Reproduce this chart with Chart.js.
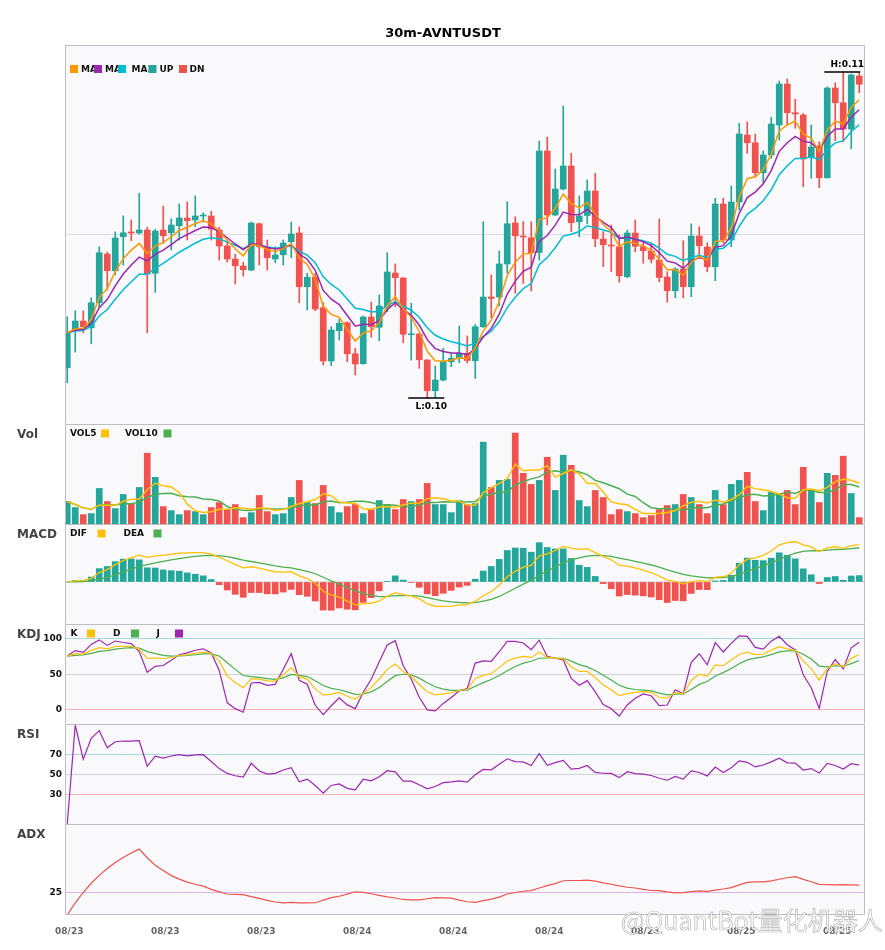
<!DOCTYPE html>
<html lang="en">
<head>
<meta charset="UTF-8">
<title>30m-AVNTUSDT</title>
<style>
  body { margin: 0; background: #fff; font-family: "DejaVu Sans", sans-serif; }
  #wrap { position: relative; width: 885px; height: 950px; overflow: hidden; }
  #wrap canvas { position: absolute; left: 0; }
  #wm {
    position: absolute; left: 621px; top: 901px;
    font: 25px "Noto Sans CJK SC", "DejaVu Sans", sans-serif;
    color: rgba(255, 255, 255, 0.92);
    -webkit-text-stroke: 0.7px rgba(110, 110, 110, 0.5);
    white-space: nowrap;
  }
</style>
</head>
<body>
<div id="wrap">
  <canvas id="cMain" width="885" height="424" style="top:0"></canvas>
  <canvas id="cVol" width="885" height="100" style="top:424px"></canvas>
  <canvas id="cMacd" width="885" height="100" style="top:524px"></canvas>
  <canvas id="cKdj" width="885" height="100" style="top:624px"></canvas>
  <canvas id="cRsi" width="885" height="100" style="top:724px"></canvas>
  <canvas id="cAdx" width="885" height="126" style="top:824px"></canvas>
  <div id="wm">@QuantBot量化机器人</div>
</div>

<script src="https://cdn.jsdelivr.net/npm/chart.js"></script>
<script>
// candles, 30m bars
const open = [
  0.10225, 0.10376, 0.10412, 0.10385, 0.10485, 0.10680, 0.10613, 0.10749, 0.10768, 0.10764,
  0.10776, 0.10603, 0.10776, 0.10765, 0.10793, 0.10824, 0.10816, 0.10832, 0.10832, 0.10776,
  0.10712, 0.10660, 0.10632, 0.10616, 0.10801, 0.10708, 0.10660, 0.10677, 0.10729, 0.10764,
  0.10549, 0.10587, 0.10465, 0.10252, 0.10373, 0.10405, 0.10281, 0.10241, 0.10428, 0.10387,
  0.10469, 0.10604, 0.10584, 0.10357, 0.10360, 0.10256, 0.10133, 0.10176, 0.10249, 0.10263,
  0.10283, 0.10253, 0.10389, 0.10508, 0.10508, 0.10640, 0.10804, 0.10752, 0.10745, 0.10686,
  0.11092, 0.10836, 0.10940, 0.11032, 0.10809, 0.10834, 0.10932, 0.10740, 0.10716, 0.10709,
  0.10589, 0.10764, 0.10709, 0.10693, 0.10656, 0.10588, 0.10533, 0.10620, 0.10549, 0.10752,
  0.10708, 0.10629, 0.10880, 0.10736, 0.10888, 0.11156, 0.11125, 0.11005, 0.11076, 0.11196,
  0.11360, 0.11245, 0.11236, 0.11067, 0.11112, 0.10985, 0.11344, 0.11285, 0.11180, 0.11392
];
const high = [
  0.10429, 0.10453, 0.10453, 0.10505, 0.10709, 0.10688, 0.10768, 0.10832, 0.10816, 0.10923,
  0.10787, 0.10779, 0.10872, 0.10821, 0.10880, 0.10888, 0.10912, 0.10845, 0.10851, 0.10787,
  0.10736, 0.10679, 0.10647, 0.10808, 0.10804, 0.10736, 0.10709, 0.10736, 0.10808, 0.10788,
  0.10603, 0.10603, 0.10485, 0.10389, 0.10419, 0.10409, 0.10303, 0.10432, 0.10488, 0.10516,
  0.10685, 0.10640, 0.10587, 0.10483, 0.10362, 0.10258, 0.10232, 0.10303, 0.10283, 0.10392,
  0.10352, 0.10398, 0.10809, 0.10596, 0.10692, 0.10889, 0.10829, 0.10810, 0.10809, 0.11132,
  0.11148, 0.11020, 0.11272, 0.11083, 0.10912, 0.10976, 0.11003, 0.10769, 0.10796, 0.10756,
  0.10776, 0.10816, 0.10729, 0.10724, 0.10820, 0.10609, 0.10625, 0.10733, 0.10800, 0.10789,
  0.10725, 0.10903, 0.10903, 0.10952, 0.11203, 0.11208, 0.11160, 0.11092, 0.11227, 0.11372,
  0.11380, 0.11299, 0.11243, 0.11196, 0.11129, 0.11349, 0.11365, 0.11409, 0.11400, 0.11405
];
const low = [
  0.10165, 0.10288, 0.10365, 0.10321, 0.10469, 0.10536, 0.10596, 0.10636, 0.10733, 0.10760,
  0.10365, 0.10527, 0.10723, 0.10696, 0.10736, 0.10736, 0.10789, 0.10808, 0.10736, 0.10656,
  0.10648, 0.10560, 0.10592, 0.10613, 0.10636, 0.10616, 0.10645, 0.10636, 0.10665, 0.10485,
  0.10456, 0.10453, 0.10236, 0.10233, 0.10336, 0.10249, 0.10196, 0.10239, 0.10347, 0.10333,
  0.10449, 0.10469, 0.10325, 0.10256, 0.10223, 0.10103, 0.10106, 0.10172, 0.10229, 0.10245,
  0.10244, 0.10182, 0.10386, 0.10426, 0.10472, 0.10603, 0.10523, 0.10562, 0.10532, 0.10655,
  0.10796, 0.10834, 0.10936, 0.10769, 0.10749, 0.10801, 0.10709, 0.10629, 0.10609, 0.10567,
  0.10585, 0.10689, 0.10643, 0.10644, 0.10569, 0.10487, 0.10505, 0.10505, 0.10509, 0.10669,
  0.10609, 0.10573, 0.10723, 0.10709, 0.10856, 0.11083, 0.10987, 0.10963, 0.11063, 0.11136,
  0.11196, 0.11183, 0.10949, 0.10983, 0.10945, 0.10983, 0.11133, 0.11129, 0.11101, 0.11325
];
const close = [
  0.10365, 0.10412, 0.10389, 0.10485, 0.10685, 0.10613, 0.10744, 0.10765, 0.10764, 0.10776,
  0.10600, 0.10772, 0.10753, 0.10796, 0.10824, 0.10813, 0.10832, 0.10835, 0.10779, 0.10712,
  0.10660, 0.10633, 0.10617, 0.10804, 0.10709, 0.10665, 0.10676, 0.10724, 0.10760, 0.10549,
  0.10587, 0.10460, 0.10252, 0.10376, 0.10403, 0.10281, 0.10240, 0.10428, 0.10389, 0.10472,
  0.10608, 0.10585, 0.10359, 0.10360, 0.10257, 0.10133, 0.10176, 0.10249, 0.10263, 0.10283,
  0.10254, 0.10389, 0.10508, 0.10502, 0.10640, 0.10801, 0.10753, 0.10748, 0.10685, 0.11092,
  0.10836, 0.10940, 0.11032, 0.10805, 0.10832, 0.10932, 0.10741, 0.10717, 0.10712, 0.10593,
  0.10764, 0.10711, 0.10693, 0.10659, 0.10586, 0.10533, 0.10620, 0.10549, 0.10752, 0.10713,
  0.10629, 0.10880, 0.10736, 0.10888, 0.11160, 0.11125, 0.11005, 0.11076, 0.11200, 0.11360,
  0.11245, 0.11240, 0.11060, 0.11108, 0.10985, 0.11344, 0.11285, 0.11180, 0.11396, 0.11359
];
const volume = [
  670000, 490000, 280000, 310000, 1060000, 670000, 460000, 880000, 600000, 1090000,
  2110000, 1390000, 520000, 400000, 280000, 400000, 370000, 280000, 490000, 640000,
  430000, 580000, 190000, 340000, 850000, 370000, 280000, 310000, 790000, 1300000,
  640000, 610000, 1150000, 520000, 340000, 520000, 580000, 310000, 430000, 700000,
  580000, 430000, 730000, 670000, 730000, 1210000, 580000, 580000, 340000, 700000,
  580000, 610000, 2440000, 1090000, 1300000, 1330000, 2710000, 1510000, 1180000, 1300000,
  1990000, 1000000, 2050000, 1750000, 700000, 520000, 1000000, 790000, 280000, 430000,
  370000, 310000, 190000, 250000, 430000, 550000, 580000, 880000, 790000, 580000,
  310000, 1000000, 580000, 1180000, 1300000, 1540000, 670000, 400000, 940000, 910000,
  1000000, 580000, 1690000, 1030000, 640000, 1510000, 1450000, 2020000, 910000, 190000
];
// x axis: one label every 12 bars
const tickIdx = [0, 12, 24, 36, 48, 60, 72, 84, 96];
const tickLabels = ['08/23', '08/23', '08/23', '08/24', '08/24', '08/24', '08/24', '08/25', '08/25'];
// smoothing lengths of the three price averages, as the lines in the picture behave
const maLens = [5, 8, 13];

const UP = '#26a69a', DN = '#ef5350';
const ORANGE = '#ff9800', PURPLE = '#9c27b0', CYAN = '#00bcd4', YELLOW = '#ffc107', GREEN = '#4caf50';
const FONT = '"DejaVu Sans", sans-serif';

const idx = close.map((_, i) => i);
const candleColor = idx.map(i => close[i] >= open[i] ? UP : DN);

// indicator helpers
function ema(src, n) {
  const a = 2 / (n + 1);
  let e = src[0];
  return src.map((v, i) => (e = i === 0 ? v : e + a * (v - e)));
}
function sma(src, n) {
  return src.map((_, i) => {
    const s = Math.max(0, i - n + 1);
    let t = 0;
    for (let k = s; k <= i; k++) t += src[k];
    return t / (i - s + 1);
  });
}

const [ma5, ma10, ma20] = maLens.map(n => ema(close, n));
const vol5 = sma(volume, 5), vol10 = sma(volume, 10);

const e12 = ema(close, 12), e26 = ema(close, 26);
const dif = idx.map(i => e12[i] - e26[i]);
const dea = ema(dif, 9);
const hist = idx.map(i => 2 * (dif[i] - dea[i]));

// KDJ 9,3,3
const kLine = [], dLine = [], jLine = [];
idx.forEach(i => {
  const s = Math.max(0, i - 8);
  const hh = Math.max(...high.slice(s, i + 1)), ll = Math.min(...low.slice(s, i + 1));
  const rsv = hh === ll ? 50 : (close[i] - ll) / (hh - ll) * 100;
  const k = i === 0 ? rsv : (2 * kLine[i - 1] + rsv) / 3;
  const d = i === 0 ? rsv : (2 * dLine[i - 1] + k) / 3;
  kLine.push(k); dLine.push(d); jLine.push(3 * k - 2 * d);
});

// RSI 14 (wilder)
const rsi = [0];
let ag = 0, al = 0;
for (let i = 1; i < close.length; i++) {
  const ch = close[i] - close[i - 1];
  ag = ag * 13 / 14 + Math.max(ch, 0) / 14;
  al = al * 13 / 14 + Math.max(-ch, 0) / 14;
  rsi.push(ag + al === 0 ? 0 : 100 * ag / (ag + al));
}

// ADX 14
const adx = [0];
let sTr = (high[0] - low[0]) / 14, sP = 0, sM = 0, ax = 0;
for (let i = 1; i < close.length; i++) {
  const up = high[i] - high[i - 1], dn = low[i - 1] - low[i];
  const pdm = up > dn && up > 0 ? up : 0, mdm = dn > up && dn > 0 ? dn : 0;
  const tr = Math.max(high[i] - low[i], Math.abs(high[i] - close[i - 1]), Math.abs(low[i] - close[i - 1]));
  sTr = sTr * 13 / 14 + tr / 14; sP = sP * 13 / 14 + pdm / 14; sM = sM * 13 / 14 + mdm / 14;
  const pdi = 100 * sP / sTr, mdi = 100 * sM / sTr;
  const dx = pdi + mdi === 0 ? 0 : 100 * Math.abs(pdi - mdi) / (pdi + mdi);
  ax = ax + 2 / 15 * (dx - ax);
  adx.push(ax);
}

// drawing helpers
const pts = arr => idx.map(i => ({ x: i, y: arr[i] }));
function line(label, arr, color, w) {
  return { type: 'line', label, data: pts(arr), borderColor: color, backgroundColor: color,
    borderWidth: w, pointRadius: 0, fill: false, tension: 0 };
}

// background, frame, panel title and legend
const panelPlugin = {
  id: 'panel',
  beforeDraw(chart) {
    const { ctx, chartArea: a } = chart;
    ctx.save();
    ctx.fillStyle = '#f9f9fb';
    ctx.fillRect(a.left, a.top, a.right - a.left, a.bottom - a.top);
    ctx.restore();
  },
  afterDraw(chart, args, o) {
    const { ctx, chartArea: a } = chart;
    ctx.save();
    ctx.strokeStyle = '#bdbdc5';
    ctx.lineWidth = 1;
    const l = Math.round(a.left) + 0.5, r = Math.round(a.right) - 0.5;
    const t = Math.round(a.top) + 0.5, b = Math.round(a.bottom) - 0.5;
    ctx.beginPath();
    ctx.moveTo(l, b); ctx.lineTo(l, t); ctx.lineTo(r, t); ctx.lineTo(r, b);
    if (o.bottom) ctx.lineTo(l, b);
    ctx.stroke();
    ctx.textBaseline = 'middle';
    if (o.title) {
      ctx.font = 'bold 12px ' + FONT;
      ctx.fillStyle = '#444';
      ctx.fillText(o.title, 17, a.top + 11);
    }
    const ly = a.top + (o.ly || 9.5);
    (o.legend || []).forEach(it => {
      if (it.boxFirst) { ctx.fillStyle = it.color; ctx.fillRect(it.bx, ly - 4, 8, 8); }
      ctx.save();
      if (it.clip) { ctx.beginPath(); ctx.rect(it.tx, ly - 8, it.clip - it.tx, 16); ctx.clip(); }
      ctx.font = 'bold 9px ' + FONT;
      ctx.fillStyle = '#111';
      ctx.fillText(it.text, it.tx, ly + 0.5);
      ctx.restore();
      if (!it.boxFirst) { ctx.fillStyle = it.color; ctx.fillRect(it.bx, ly - 4, 8, 8); }
    });
    ctx.restore();
  }
};

// title and high / low markers of the price pane
const priceMarks = {
  id: 'priceMarks',
  afterDraw(chart) {
    const { ctx, scales: { x, y } } = chart;
    ctx.save();
    ctx.fillStyle = '#000';
    ctx.textAlign = 'center';
    ctx.textBaseline = 'middle';
    ctx.font = 'bold 13px ' + FONT;
    ctx.fillText('30m-AVNTUSDT', 443, 34);
    const hi = high.indexOf(Math.max(...high)), lo = low.indexOf(Math.min(...low));
    ctx.font = 'bold 9px ' + FONT;
    ctx.strokeStyle = '#000';
    ctx.lineWidth = 1.5;
    [[hi, high[hi], 'H:', -7], [lo, low[lo], 'L:', 9]].forEach(([i, v, tag, dy]) => {
      const px = x.getPixelForValue(i), py = Math.round(y.getPixelForValue(v));
      ctx.beginPath(); ctx.moveTo(px - 19, py); ctx.lineTo(px + 17, py); ctx.stroke();
      ctx.fillText(tag + v.toFixed(2), px + 4, py + dy);
    });
    ctx.restore();
  }
};

function xAxis(show) {
  return {
    type: 'linear', min: -0.28, max: 99.72, display: show, offset: false, bounds: 'ticks',
    grid: { display: false, offset: false }, border: { display: false },
    afterBuildTicks: s => { s.ticks = tickIdx.map(v => ({ value: v })); },
    afterFit: s => { if (show) s.height = 35; s.paddingLeft = 0; s.paddingRight = 0; },
    ticks: { autoSkip: false, maxRotation: 0, padding: 3, labelOffset: 2, color: '#666',
      font: { family: FONT, size: 9, weight: 'bold' },
      callback: v => tickLabels[tickIdx.indexOf(v)] }
  };
}
function yAxis(extra, lines, colors, labels) {
  return Object.assign({
    afterFit: s => { s.width = 65; s.paddingTop = 0; s.paddingBottom = 0; },
    afterBuildTicks: s => { s.ticks = lines.map(v => ({ value: v })); },
    border: { display: false },
    grid: { drawTicks: false, lineWidth: 1, color: c => colors[c.index] || '#ddd' },
    ticks: { display: labels, padding: 3, color: '#111', font: { family: FONT, size: 9, weight: 'bold' } }
  }, extra);
}
function opts(scales, plugin, top) {
  return {
    responsive: false, animation: false, events: [],
    layout: { padding: { top: top || 0, right: 20, left: 0, bottom: 0 } },
    scales,
    plugins: { legend: { display: false }, tooltip: { enabled: false }, panel: plugin }
  };
}

// price pane
const pMin = 0.1, pMax = 0.11516;
new Chart(document.getElementById('cMain'), {
  type: 'bar',
  data: { datasets: [
    line('MA5', ma5, ORANGE, 1.5),
    line('MA10', ma10, PURPLE, 1.5),
    line('MA20', ma20, CYAN, 1.5),
    { label: 'body', data: idx.map(i => ({ x: i, y: [open[i], close[i]] })), backgroundColor: candleColor,
      barThickness: 6, minBarLength: 1, grouped: false },
    { label: 'wick', data: idx.map(i => ({ x: i, y: [low[i], high[i]] })), backgroundColor: candleColor,
      barThickness: 1, grouped: false }
  ] },
  options: opts({
    x: xAxis(false),
    y: yAxis({ min: pMin, max: pMax }, [(pMin + pMax) / 2], ['#dcdce2'], false)
  }, {
    ly: 24,
    legend: [
      { text: 'MA5', color: ORANGE, bx: 70, tx: 81, boxFirst: true, clip: 94 },
      { text: 'MA10', color: PURPLE, bx: 94, tx: 105, boxFirst: true, clip: 118 },
      { text: 'MA20', color: CYAN, bx: 118, tx: 131.5, boxFirst: true, clip: 148.5 },
      { text: 'UP', color: UP, bx: 148.5, tx: 159.5, boxFirst: true },
      { text: 'DN', color: DN, bx: 179, tx: 189.5, boxFirst: true }
    ]
  }, 45),
  plugins: [panelPlugin, priceMarks]
});

// volume pane
new Chart(document.getElementById('cVol'), {
  type: 'bar',
  data: { datasets: [
    line('VOL5', vol5, YELLOW, 1.5),
    line('VOL10', vol10, GREEN, 1.5),
    { label: 'Vol', data: pts(volume), backgroundColor: candleColor, barThickness: 6, grouped: false }
  ] },
  options: opts({
    x: xAxis(false),
    y: yAxis({ min: 0, max: 2980000 }, [], [], false)
  }, {
    title: 'Vol',
    legend: [
      { text: 'VOL5', color: YELLOW, tx: 70, bx: 101 },
      { text: 'VOL10', color: GREEN, tx: 125, bx: 163.5 }
    ]
  }),
  plugins: [panelPlugin]
});

// MACD pane
const mAll = dif.concat(dea);
const mLo = Math.min(...mAll), mHi = Math.max(...mAll), mPad = (mHi - mLo) * 0.27;
new Chart(document.getElementById('cMacd'), {
  type: 'bar',
  data: { datasets: [
    line('DIF', dif, YELLOW, 1.3),
    line('DEA', dea, GREEN, 1.3),
    { label: 'MACD', data: pts(hist), backgroundColor: hist.map(v => v >= 0 ? UP : DN), barThickness: 6, grouped: false }
  ] },
  options: opts({
    x: xAxis(false),
    y: yAxis({ min: mLo - mPad, max: mHi + mPad }, [0], ['#dcdce2'], false)
  }, {
    title: 'MACD',
    legend: [
      { text: 'DIF', color: YELLOW, tx: 70, bx: 97.5 },
      { text: 'DEA', color: GREEN, tx: 123.5, bx: 153.5 }
    ]
  }),
  plugins: [panelPlugin]
});

// KDJ pane
new Chart(document.getElementById('cKdj'), {
  type: 'line',
  data: { datasets: [
    line('K', kLine, YELLOW, 1.2),
    line('D', dLine, GREEN, 1.2),
    line('J', jLine, PURPLE, 1.2)
  ] },
  options: opts({
    x: xAxis(false),
    y: yAxis({ min: -20, max: 121 }, [0, 50, 100], ['#f6b4b4', '#d2d2d8', '#a6dada'], true)
  }, {
    title: 'KDJ',
    legend: [
      { text: 'K', color: YELLOW, tx: 70.5, bx: 87 },
      { text: 'D', color: GREEN, tx: 113, bx: 131 },
      { text: 'J', color: PURPLE, tx: 156.5, bx: 175 }
    ]
  }),
  plugins: [panelPlugin]
});

// RSI pane
new Chart(document.getElementById('cRsi'), {
  type: 'line',
  data: { datasets: [line('RSI', rsi, PURPLE, 1.2)] },
  options: opts({
    x: xAxis(false),
    y: yAxis({ min: 0, max: 101 }, [30, 50, 70], ['#f6b4b4', '#d2d2d8', '#a6dada'], true)
  }, { title: 'RSI' }),
  plugins: [panelPlugin]
});

// ADX pane
new Chart(document.getElementById('cAdx'), {
  type: 'line',
  data: { datasets: [line('ADX', adx, DN, 1.2)] },
  options: opts({
    x: xAxis(true),
    y: yAxis({ min: 0, max: 100 }, [25], ['#dfb0ea'], true)
  }, { title: 'ADX', bottom: true }),
  plugins: [panelPlugin]
});
</script>
</body>
</html>
